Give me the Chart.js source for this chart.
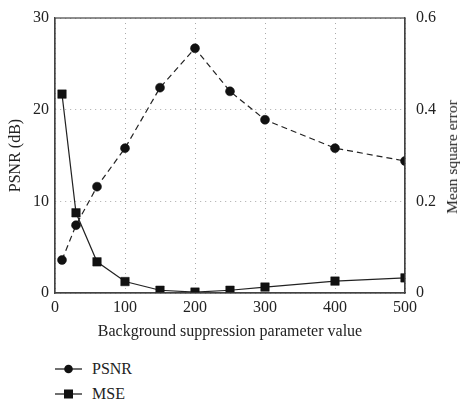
<!DOCTYPE html>
<html lang="en">
<head>
  <meta charset="UTF-8" />
  <title>PSNR and MSE vs background suppression parameter</title>
  <script src="https://cdn.jsdelivr.net/npm/chart.js"></script>
  <style>
    body { margin: 0; padding: 0; background: #fff; font-family: "Liberation Serif", "DejaVu Serif", serif; }
    #wrap { position: relative; width: 474px; height: 409px; }
    #chart { position: absolute; left: 0; top: 0; }
    .legend { position: absolute; left: 55px; top: 356px; font-size: 16px; color: #222; }
    .legend div { display: flex; align-items: center; height: 25px; }
    .legend svg { margin-right: 10px; }
    .rtitle { position: absolute; left: 452px; top: 157px; font-size: 15.5px; color: #222;
              transform: translate(-50%, -50%) rotate(-90deg); white-space: nowrap; }
  </style>
</head>
<body>
  <div id="wrap">
    <canvas id="chart" width="474" height="345"></canvas>
    <div class="rtitle">Mean square error</div>
    <div class="legend">
      <div>
        <svg width="27" height="12"><line x1="0" y1="6" x2="27" y2="6" stroke="#222" stroke-width="1.3"/><circle cx="13.5" cy="6" r="4.3" fill="#111"/></svg>
        <span>PSNR</span>
      </div>
      <div>
        <svg width="27" height="12"><line x1="0" y1="6" x2="27" y2="6" stroke="#222" stroke-width="1.3"/><rect x="9" y="1.5" width="9" height="9" fill="#111"/></svg>
        <span>MSE</span>
      </div>
    </div>
  </div>

  <script>
    const paramValues = [10, 30, 60, 100, 150, 200, 250, 300, 400, 500];
    const psnrValues = [3.6, 7.4, 11.6, 15.8, 22.4, 26.7, 22.0, 18.9, 15.8, 14.4];
    const mseValues = [0.434, 0.175, 0.068, 0.025, 0.006, 0.002, 0.006, 0.013, 0.026, 0.033];
    const xTicks = [0, 100, 200, 300, 400, 500];
    const psnrTicks = [0, 10, 20, 30];
    const mseTicks = [0, 0.2, 0.4, 0.6];

    const serif = "'Liberation Serif', 'DejaVu Serif', serif";
    const ink = '#222';
    const gridColor = '#aaa';

    // box round the plot area
    const frame = {
      id: 'frame',
      afterDraw(chart) {
        const a = chart.chartArea, ctx = chart.ctx;
        ctx.save();
        ctx.strokeStyle = '#444';
        ctx.lineWidth = 1.2;
        ctx.strokeRect(a.left, a.top, a.right - a.left, a.bottom - a.top);
        ctx.restore();
      }
    };

    function pairs(ys) {
      return paramValues.map((x, i) => ({ x: x, y: ys[i] }));
    }

    new Chart(document.getElementById('chart'), {
      type: 'line',
      data: {
        datasets: [
          {
            label: 'PSNR',
            data: pairs(psnrValues),
            yAxisID: 'y',
            borderColor: ink,
            borderWidth: 1.2,
            borderDash: [6, 4],
            pointStyle: 'circle',
            pointRadius: 4.5,
            pointBorderWidth: 0.5,
            pointBackgroundColor: '#111',
            pointBorderColor: '#111',
            tension: 0
          },
          {
            label: 'MSE',
            data: pairs(mseValues),
            yAxisID: 'y1',
            borderColor: ink,
            borderWidth: 1.2,
            pointStyle: 'rect',
            pointRadius: 6,
            pointBorderWidth: 0.5,
            pointBackgroundColor: '#111',
            pointBorderColor: '#111',
            tension: 0
          }
        ]
      },
      options: {
        responsive: false,
        animation: false,
        layout: { padding: { top: 18, left: 0, right: 0, bottom: 0 } },
        plugins: { legend: { display: false }, tooltip: { enabled: false } },
        scales: {
          x: {
            type: 'linear',
            min: 0, max: 500,
            afterBuildTicks: s => { s.ticks = xTicks.map(v => ({ value: v })); },
            afterFit: s => { s.height = 52; },
            ticks: { color: ink, font: { family: serif, size: 16 }, padding: 5 },
            grid: { color: gridColor, drawTicks: false, lineWidth: 1 },
            border: { display: true, color: '#444', width: 1.2, dash: [1, 4] },
            title: { display: true, text: 'Background suppression parameter value', color: ink, font: { family: serif, size: 16 }, padding: { top: 3 } }
          },
          y: {
            position: 'left',
            min: 0, max: 30,
            afterBuildTicks: s => { s.ticks = psnrTicks.map(v => ({ value: v })); },
            afterFit: s => { s.width = 55; },
            ticks: { color: ink, font: { family: serif, size: 16 }, padding: 6 },
            grid: { color: gridColor, drawTicks: false, lineWidth: 1 },
            border: { display: true, color: '#444', width: 1.2, dash: [1, 4] },
            title: { display: true, text: 'PSNR (dB)', color: ink, font: { family: serif, size: 16 }, padding: { top: 6, bottom: 0 } }
          },
          y1: {
            position: 'right',
            min: 0, max: 0.6,
            afterBuildTicks: s => { s.ticks = mseTicks.map(v => ({ value: v })); },
            afterFit: s => { s.width = 69; },
            ticks: { color: ink, font: { family: serif, size: 16 }, padding: 3, callback: v => String(v) },
            grid: { display: false },
            border: { display: true, color: '#444', width: 1.2 }
          }
        }
      },
      plugins: [frame]
    });
  </script>
</body>
</html>
